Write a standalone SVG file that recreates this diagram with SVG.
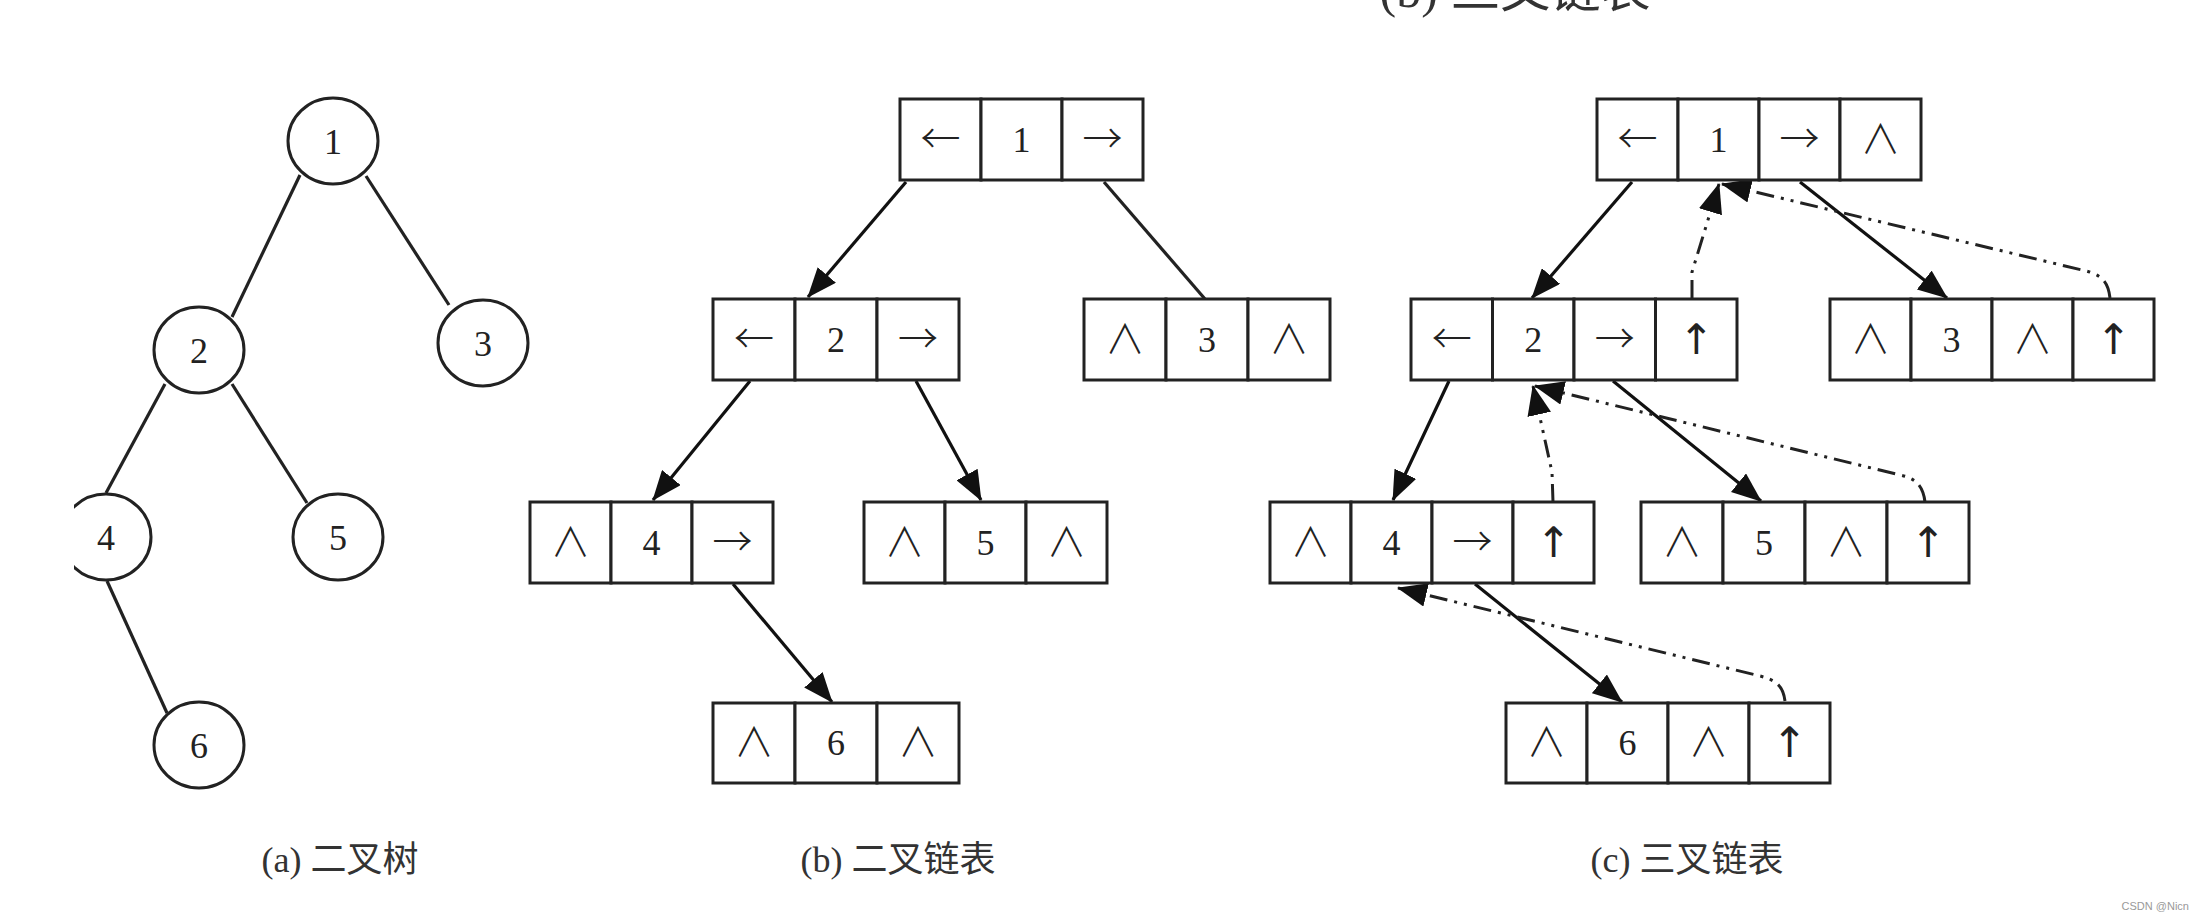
<svg xmlns="http://www.w3.org/2000/svg" width="2203" height="920" viewBox="0 0 2203 920">
<style>
.c{fill:#fff;stroke:#222;stroke-width:3}
.t{fill:#fff;stroke:#222;stroke-width:3}
.d{font-family:"Liberation Serif",serif;font-size:36px;text-anchor:middle;fill:#222}
.s{font-family:"Noto Sans CJK SC","DejaVu Sans",sans-serif;font-size:40px;font-weight:300;text-anchor:middle;fill:#222}
.u{font-family:"DejaVu Sans",sans-serif;font-size:42px;text-anchor:middle;fill:#222}
.e{stroke:#222;stroke-width:3.2;fill:none}
.a{stroke:#111;stroke-width:3.2;fill:none;marker-end:url(#ah)}
.p{stroke:#222;stroke-width:3;fill:none;stroke-dasharray:18 7 3 7 3 7;marker-end:url(#ah)}
.cap{font-family:"Liberation Serif","Noto Sans CJK SC",serif;font-size:36px;text-anchor:middle;fill:#333}
</style>
<defs>
<marker id="ah" viewBox="0 0 30 24" markerWidth="30" markerHeight="24" refX="29" refY="12" orient="auto" markerUnits="userSpaceOnUse"><path d="M0,0 L30,12 L0,24 z" fill="#111"/></marker>
<clipPath id="clipL"><rect x="74" y="0" width="2129" height="920"/></clipPath>
</defs>
<rect width="2203" height="920" fill="#fff"/>

<text class="cap" x="1515" y="7" style="font-size:50px">(b) 三叉链表</text>

<g id="connectors">
<g id="tree-edges">
<line class="e" x1="300" y1="175" x2="232" y2="317"/>
<line class="e" x1="366" y1="176" x2="449" y2="305"/>
<line class="e" x1="165" y1="384" x2="106" y2="493"/>
<line class="e" x1="232" y1="384" x2="307" y2="503"/>
<line class="e" x1="107" y1="581" x2="167" y2="713"/>
</g>
<g id="b-links">
<path class="a" d="M906,182 L808,297"/>
<path class="e" d="M1104,182 L1205,299"/>
<path class="a" d="M750,381 L653,500"/>
<path class="a" d="M916,381 L981,500"/>
<path class="a" d="M733,584 L832,702"/>
</g>
<g id="c-links">
<path class="a" d="M1632,182 L1532,298"/>
<path class="a" d="M1800,182 L1947,298"/>
<path class="a" d="M1449,381 L1393,500"/>
<path class="a" d="M1613,381 L1761,501"/>
<path class="a" d="M1475,584 L1622,702"/>
<path class="p" d="M1692,298 L1692,272 L1719,184"/>
<path class="p" d="M2110,298 C2108,280 2100,274 2082,270 L1722,184"/>
<path class="p" d="M1553,502 L1552,472 L1533,386"/>
<path class="p" d="M1925,502 C1923,485 1915,478 1900,475 L1535,386"/>
<path class="p" d="M1785,701 C1783,685 1775,680 1760,676 L1398,588"/>
</g>
</g>

<g id="tree-a">
<g id="a1"><ellipse class="t" cx="333" cy="141" rx="45" ry="43"/><text class="d" x="333" y="154">1</text></g>
<g id="a2"><ellipse class="t" cx="199" cy="350" rx="45" ry="43"/><text class="d" x="199" y="363">2</text></g>
<g id="a3"><ellipse class="t" cx="483" cy="343" rx="45" ry="43"/><text class="d" x="483" y="356">3</text></g>
<g id="a4" clip-path="url(#clipL)"><ellipse class="t" cx="106" cy="537" rx="45" ry="43"/><text class="d" x="106" y="550">4</text></g>
<g id="a5"><ellipse class="t" cx="338" cy="537" rx="45" ry="43"/><text class="d" x="338" y="550">5</text></g>
<g id="a6"><ellipse class="t" cx="199" cy="745" rx="45" ry="43"/><text class="d" x="199" y="758">6</text></g>
</g>

<g id="list-b">
<g id="b1">
<rect class="c" x="900" y="99" width="81" height="81"/><rect class="c" x="981" y="99" width="81" height="81"/><rect class="c" x="1062" y="99" width="81" height="81"/>
<text class="s" x="940.5" y="153">←</text><text class="d" x="1021.5" y="152">1</text><text class="s" x="1102.5" y="153">→</text>
</g>
<g id="b2">
<rect class="c" x="713" y="299" width="82" height="81"/><rect class="c" x="795" y="299" width="82" height="81"/><rect class="c" x="877" y="299" width="82" height="81"/>
<text class="s" x="754" y="353">←</text><text class="d" x="836" y="352">2</text><text class="s" x="918" y="353">→</text>
</g>
<g id="b3">
<rect class="c" x="1084" y="299" width="82" height="81"/><rect class="c" x="1166" y="299" width="82" height="81"/><rect class="c" x="1248" y="299" width="82" height="81"/>
<text class="s" x="1125" y="353">∧</text><text class="d" x="1207" y="352">3</text><text class="s" x="1289" y="353">∧</text>
</g>
<g id="b4">
<rect class="c" x="530" y="502" width="81" height="81"/><rect class="c" x="611" y="502" width="81" height="81"/><rect class="c" x="692" y="502" width="81" height="81"/>
<text class="s" x="570.5" y="556">∧</text><text class="d" x="651.5" y="555">4</text><text class="s" x="732.5" y="556">→</text>
</g>
<g id="b5">
<rect class="c" x="864" y="502" width="81" height="81"/><rect class="c" x="945" y="502" width="81" height="81"/><rect class="c" x="1026" y="502" width="81" height="81"/>
<text class="s" x="904.5" y="556">∧</text><text class="d" x="985.5" y="555">5</text><text class="s" x="1066.5" y="556">∧</text>
</g>
<g id="b6">
<rect class="c" x="713" y="703" width="82" height="80"/><rect class="c" x="795" y="703" width="82" height="80"/><rect class="c" x="877" y="703" width="82" height="80"/>
<text class="s" x="754" y="756">∧</text><text class="d" x="836" y="755">6</text><text class="s" x="918" y="756">∧</text>
</g>
</g>

<g id="list-c">
<g id="c1">
<rect class="c" x="1597" y="99" width="81" height="81"/><rect class="c" x="1678" y="99" width="81" height="81"/><rect class="c" x="1759" y="99" width="81" height="81"/><rect class="c" x="1840" y="99" width="81" height="81"/>
<text class="s" x="1637.5" y="153">←</text><text class="d" x="1718.5" y="152">1</text><text class="s" x="1799.5" y="153">→</text><text class="s" x="1880.5" y="153">∧</text>
</g>
<g id="c2">
<rect class="c" x="1411" y="299" width="81.5" height="81"/><rect class="c" x="1492.5" y="299" width="81.5" height="81"/><rect class="c" x="1574" y="299" width="81.5" height="81"/><rect class="c" x="1655.5" y="299" width="81.5" height="81"/>
<text class="s" x="1451.75" y="353">←</text><text class="d" x="1533.25" y="352">2</text><text class="s" x="1614.75" y="353">→</text><text class="u" x="1696.25" y="354">↑</text>
</g>
<g id="c3">
<rect class="c" x="1830" y="299" width="81" height="81"/><rect class="c" x="1911" y="299" width="81" height="81"/><rect class="c" x="1992" y="299" width="81" height="81"/><rect class="c" x="2073" y="299" width="81" height="81"/>
<text class="s" x="1870.5" y="353">∧</text><text class="d" x="1951.5" y="352">3</text><text class="s" x="2032.5" y="353">∧</text><text class="u" x="2113.5" y="354">↑</text>
</g>
<g id="c4">
<rect class="c" x="1270" y="502" width="81" height="81"/><rect class="c" x="1351" y="502" width="81" height="81"/><rect class="c" x="1432" y="502" width="81" height="81"/><rect class="c" x="1513" y="502" width="81" height="81"/>
<text class="s" x="1310.5" y="556">∧</text><text class="d" x="1391.5" y="555">4</text><text class="s" x="1472.5" y="556">→</text><text class="u" x="1553.5" y="557">↑</text>
</g>
<g id="c5">
<rect class="c" x="1641" y="502" width="82" height="81"/><rect class="c" x="1723" y="502" width="82" height="81"/><rect class="c" x="1805" y="502" width="82" height="81"/><rect class="c" x="1887" y="502" width="82" height="81"/>
<text class="s" x="1682" y="556">∧</text><text class="d" x="1764" y="555">5</text><text class="s" x="1846" y="556">∧</text><text class="u" x="1928" y="557">↑</text>
</g>
<g id="c6">
<rect class="c" x="1506" y="703" width="81" height="80"/><rect class="c" x="1587" y="703" width="81" height="80"/><rect class="c" x="1668" y="703" width="81" height="80"/><rect class="c" x="1749" y="703" width="81" height="80"/>
<text class="s" x="1546.5" y="756">∧</text><text class="d" x="1627.5" y="755">6</text><text class="s" x="1708.5" y="756">∧</text><text class="u" x="1789.5" y="757">↑</text>
</g>
</g>

<g id="captions">
<text class="cap" x="340" y="872">(a) 二叉树</text>
<text class="cap" x="898" y="872">(b) 二叉链表</text>
<text class="cap" x="1687" y="872">(c) 三叉链表</text>
</g>
<text x="2189" y="910" style="font-family:'Liberation Sans',sans-serif;font-size:11px;fill:#999;text-anchor:end">CSDN @Nicn</text>
</svg>
